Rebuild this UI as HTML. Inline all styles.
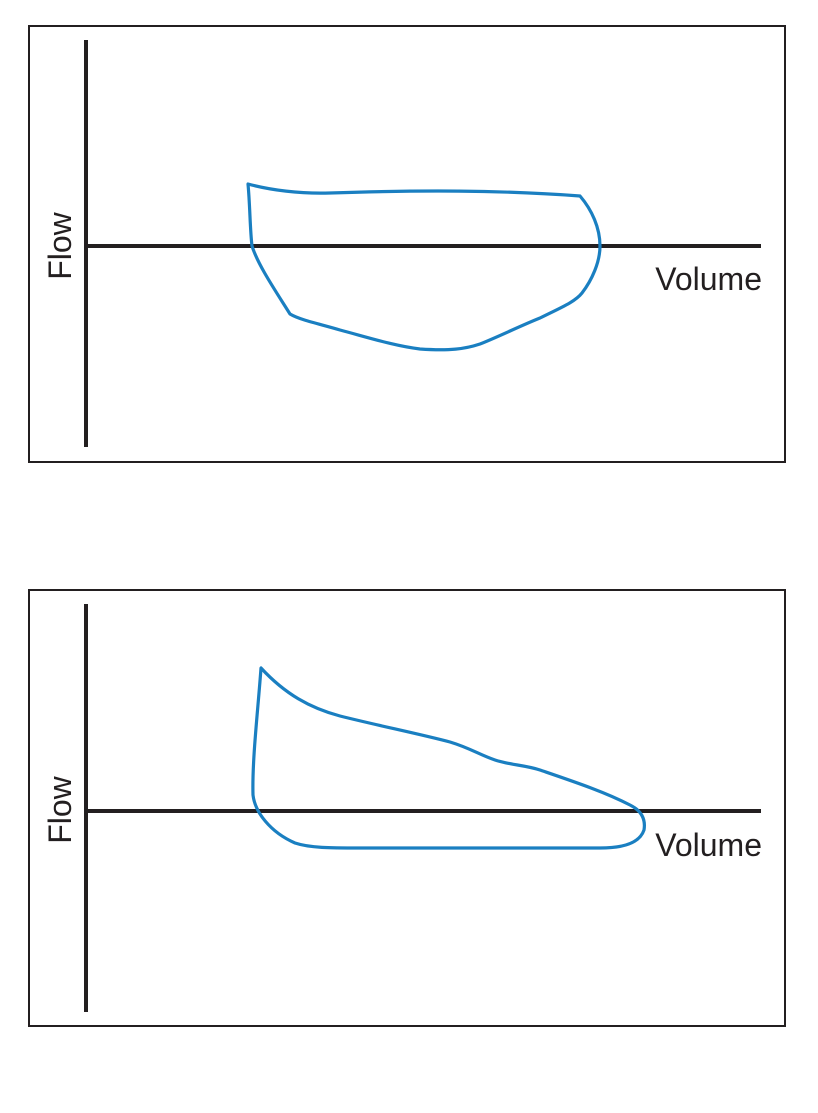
<!DOCTYPE html>
<html><head><style>html,body{margin:0;padding:0;background:#fff;}</style></head>
<body>
<svg width="818" height="1113" viewBox="0 0 818 1113" xmlns="http://www.w3.org/2000/svg" style="display:block">
<g font-family="Liberation Sans, sans-serif" fill="#231f20">
<rect x="29" y="26" width="756" height="436" fill="none" stroke="#231f20" stroke-width="2"/>
<line x1="86" y1="40" x2="86" y2="447" stroke="#231f20" stroke-width="4"/>
<line x1="86" y1="246" x2="761" y2="246" stroke="#231f20" stroke-width="4"/>
<text x="0" y="0" font-size="32" transform="translate(71,246) rotate(-90)" text-anchor="middle">Flow</text>
<text x="762" y="290" font-size="32" text-anchor="end">Volume</text>
<path d="M248,184 C250,205 250,230 252,246 C258,265 275,290 290,314 C300,320 320,324 340,330 C370,338 395,346 420,349 C450,351 465,349 480,344 C500,336 520,326 540,318 C560,308 575,302 582,293 C592,280 600,262 600,246 C600,228 592,210 580,196 C500,190 420,190 330,193 C300,194 270,190 248,184 Z" fill="none" stroke="#1a7fc1" stroke-width="3.2" stroke-linejoin="round"/>

<rect x="29" y="590" width="756" height="436" fill="none" stroke="#231f20" stroke-width="2"/>
<line x1="86" y1="604" x2="86" y2="1012" stroke="#231f20" stroke-width="4"/>
<line x1="86" y1="811" x2="761" y2="811" stroke="#231f20" stroke-width="4"/>
<text x="0" y="0" font-size="32" transform="translate(71,810) rotate(-90)" text-anchor="middle">Flow</text>
<text x="762" y="856" font-size="32" text-anchor="end">Volume</text>
<path d="M261,668 C258,710 252,760 253,795 C255,812 270,832 295,843 C310,848 330,848 360,848 L600,848 C625,848 640,842 644,830 C646,818 640,810 630,805 C605,792 575,782 540,770 C525,765 510,765 495,760 C480,755 470,748 450,742 C420,734 380,726 340,716 C310,708 285,694 261,668 Z" fill="none" stroke="#1a7fc1" stroke-width="3.2" stroke-linejoin="round"/>
</g>
</svg>
</body></html>
